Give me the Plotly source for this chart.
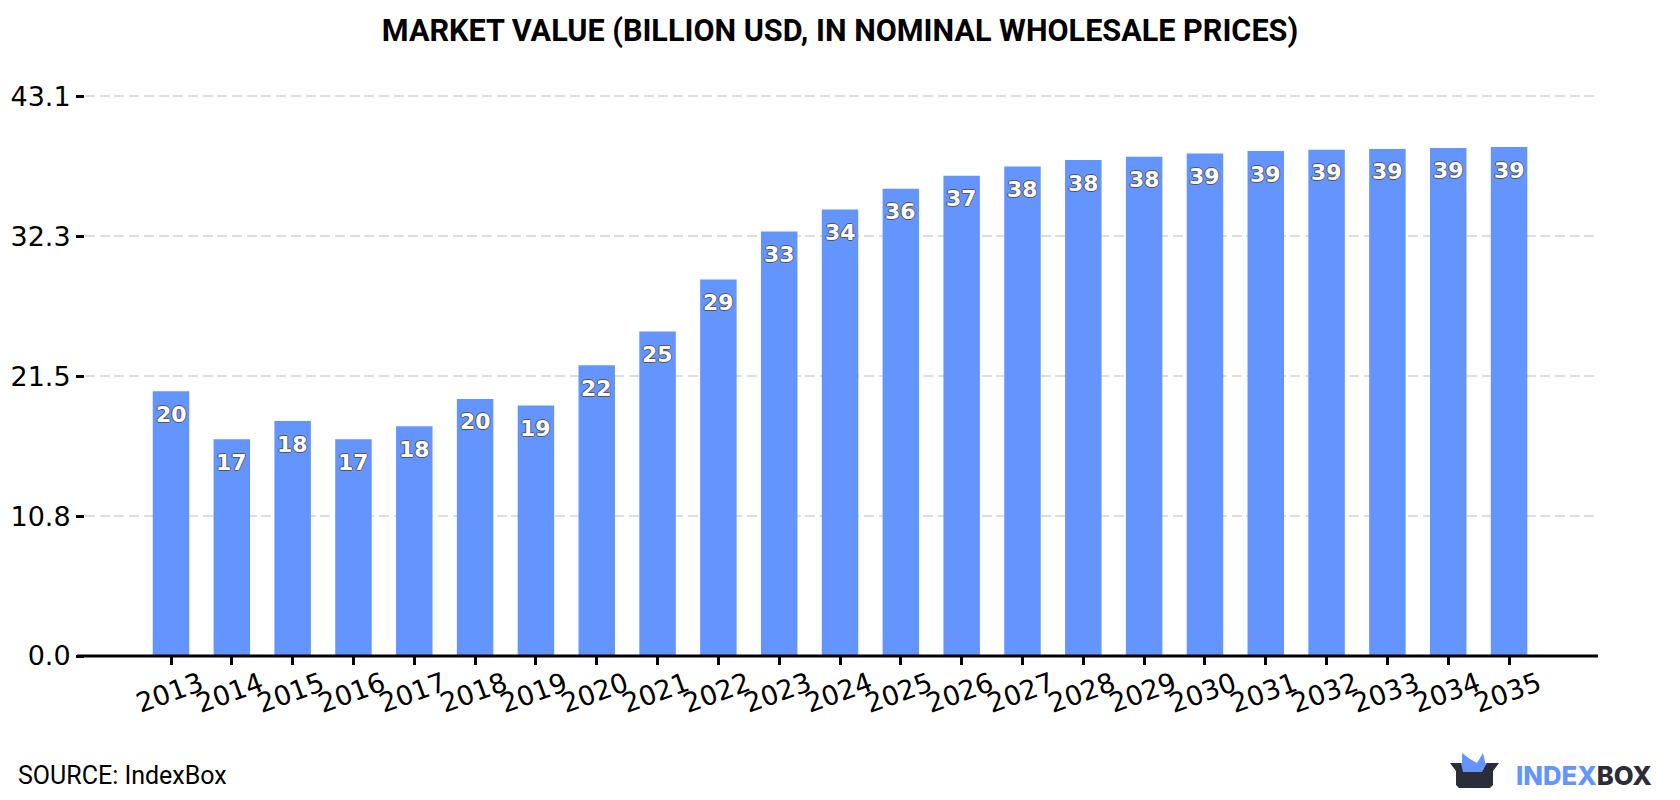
import plotly.graph_objects as go

years = [str(y) for y in range(2013, 2036)]
values = [20.4, 16.7, 18.1, 16.7, 17.7, 19.8, 19.3, 22.4, 25.0, 29.0, 32.7, 34.4,
          36.0, 37.0, 37.7, 38.2, 38.45, 38.7, 38.9, 39.0, 39.06, 39.14, 39.2]
value_labels = ["20", "17", "18", "17", "18", "20", "19", "22", "25", "29", "33", "34",
                "36", "37", "38", "38", "38", "39", "39", "39", "39", "39", "39"]
y_ticks = [0, 10.775, 21.55, 32.325, 43.1]
y_tick_labels = ["0.0", "10.8", "21.5", "32.3", "43.1"]

BAR_BLUE = "#6495ff"
DARK = "#2b2d38"
W, H = 1680, 800
Y_TOP_VALUE = 43.6
LEFT, RIGHT, BOTTOM = 85, 1597, 656
TOP = BOTTOM - Y_TOP_VALUE * (656 - 96.5) / 43.1
OUTLINE = "-1px 0 0 #555, 1px 0 0 #555, 0 -1px 0 #555, 0 1px 0 #555"


def px(x):
    return (x - LEFT) / (RIGHT - LEFT)


def py(y):
    return (BOTTOM - y) / (BOTTOM - TOP)


def path(points):
    return "M" + " L".join(f"{px(x):.5f},{py(y):.5f}" for x, y in points) + " Z"


fig = go.Figure(go.Bar(x=list(range(len(years))), y=values, width=0.6,
                       marker=dict(color=BAR_BLUE, line_width=0), hoverinfo="skip"))

# Value labels sit just under the top of each bar
for i, (v, label) in enumerate(zip(values, value_labels)):
    fig.add_annotation(x=i, y=v, text=label, showarrow=False, yshift=-23, yanchor="middle",
                       font=dict(family="DejaVu Sans", size=22, color="white", weight="bold",
                                 shadow=OUTLINE))

# Year labels rotate about their own centres, just below the axis ticks
for i, year in enumerate(years):
    fig.add_annotation(x=i, xref="x", yref="paper", y=py(692), text=year, showarrow=False,
                       textangle=-20, xanchor="center", yanchor="middle", xshift=-2,
                       font=dict(family="DejaVu Sans", size=27, color="black"))

# Axis baseline runs past the plot area to meet the y ticks
fig.add_shape(type="line", xref="paper", yref="paper", x0=px(77), x1=px(1598), y0=0, y1=0,
              line=dict(color="black", width=3), layer="above")

# Logo: open box with a crown
fig.add_shape(type="path", xref="paper", yref="paper", fillcolor=BAR_BLUE, line_width=0,
              path=path([(1462, 770), (1462, 753), (1470, 759), (1477, 763), (1483, 753),
                         (1487, 770)]))
fig.add_shape(type="path", xref="paper", yref="paper", fillcolor=DARK, line_width=0,
              path=path([(1450, 763), (1499, 763), (1493, 771), (1493, 785), (1490, 788),
                         (1459, 788), (1456, 785), (1456, 771)]))
fig.add_shape(type="path", xref="paper", yref="paper", fillcolor=BAR_BLUE, line_width=0,
              path=path([(1461, 763), (1487, 763), (1482, 772), (1463, 772)]))

fig.add_annotation(xref="paper", yref="paper", x=px(16), y=py(775), xanchor="left", yanchor="middle",
                   text="SOURCE: IndexBox", showarrow=False,
                   font=dict(family="Roboto", size=25, color="black"))
fig.add_annotation(xref="paper", yref="paper", x=px(1514), y=py(775), xanchor="left", yanchor="middle",
                   text=f'<span style="color:{BAR_BLUE}">INDEX</span><span style="color:{DARK}">BOX</span>',
                   showarrow=False, font=dict(family="Inter", size=25.7, weight=800))

fig.update_layout(
    width=W, height=H, autosize=False,
    margin=dict(l=LEFT, r=W - RIGHT, t=TOP, b=H - BOTTOM, pad=0),
    paper_bgcolor="white", plot_bgcolor="white", showlegend=False,
    title=dict(text="<b>MARKET VALUE (BILLION USD, IN NOMINAL WHOLESALE PRICES)</b>",
               x=0.5, xanchor="center", y=1 - 30 / H, yanchor="middle",
               font=dict(family="Roboto", size=30.6, color="black")),
    xaxis=dict(range=[-1.414, 23.446], tickmode="array", tickvals=list(range(len(years))),
               ticktext=years, showticklabels=False, ticks="outside", ticklen=8, tickwidth=3,
               tickcolor="black", showgrid=False, zeroline=False, showline=False, automargin=False),
    yaxis=dict(range=[0, Y_TOP_VALUE], tickmode="array", tickvals=y_ticks, ticktext=y_tick_labels,
               ticks="outside", ticklen=8, tickwidth=3, tickcolor="black",
               showgrid=True, gridcolor="#dedede", gridwidth=2.4, griddash="10px,4.7px",
               zeroline=False, showline=False, automargin=False,
               tickfont=dict(family="DejaVu Sans", size=27, color="black")),
)

fig.write_html("out.html", config=dict(displayModeBar=False))
